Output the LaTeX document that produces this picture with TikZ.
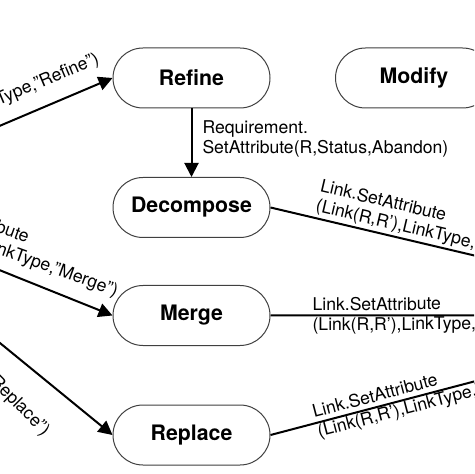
\documentclass[tikz,border=0pt]{standalone}
\usepackage{fontspec}
\setmainfont{TeX Gyre Heros}
\usetikzlibrary{arrows.meta}

\tikzset{
    action/.style={rectangle, rounded corners=15pt, draw=black!75, line width=0.5pt, fill=white,
        minimum width=78.5pt, minimum height=30pt, font=\fontsize{10.65}{12}\selectfont\bfseries},
    flow/.style={-{Triangle[length=7pt, width=7pt]}, line width=1pt},
    call/.style={font=\fontsize{8.8}{10}\selectfont, align=left, inner sep=0pt},
}

\begin{document}
\begin{tikzpicture}[x=0.5pt, y=-0.5pt]
% Frame
\useasboundingbox (0,0) rectangle (474,474);
\clip (0,0) rectangle (474,474);

% Actions
\node[action] (refine)    at (191.5, 78)    {Refine};
\node[action] (modify)    at (414, 78)      {Modify};
\node[action] (decompose) at (191.5, 207.5) {Decompose};
\node[action] (merge)     at (191.5, 315.5) {Merge};
\node[action] (replace)   at (191.5, 435)   {Replace};

% off-page ends
\coordinate (src)  at (-175, 200);
\coordinate (sink) at (727, 315);

% Incoming links
\draw[flow] (src) -- (refine.west)
    node[call, sloped, anchor=south east, pos=0.985, yshift=7pt] {Link.SetAttribute\\(Link(R,R'),LinkType,"Refine")};
\draw[flow] (src) -- (merge.west)
    node[call, sloped, anchor=south east, pos=0.99, yshift=7pt, rotate=2] {Link.SetAttribute\\(Link(R,R'),LinkType,"Merge")};
\draw[flow] (src) -- (replace.west)
    node[call, sloped, anchor=north east, pos=0.87, yshift=-5.5pt, rotate=-6] {Link.SetAttribute\\(Link(R,R'),LinkType,"Replace")};

% Refine to decompose
\draw[flow] (refine) -- (decompose)
    node[call, anchor=west, pos=0.45, xshift=5pt] {Requirement.\\SetAttribute(R,Status,Abandon)};

% Outgoing links
\draw[flow] (decompose.east) -- (sink)
    node[call, sloped, anchor=south west, pos=0.092, yshift=1pt] {Link.SetAttribute\\(Link(R,R'),LinkType,"Decompose")};
\draw[flow] (merge.east) -- (sink)
    node[call, sloped, anchor=west, pos=0.09] {Link.SetAttribute\\(Link(R,R'),LinkType,"Merge")};
\draw[flow] (replace.east) -- (sink)
    node[call, sloped, anchor=west, pos=0.097] {Link.SetAttribute\\(Link(R,R'),LinkType,"Replace")};
\end{tikzpicture}
\end{document}
